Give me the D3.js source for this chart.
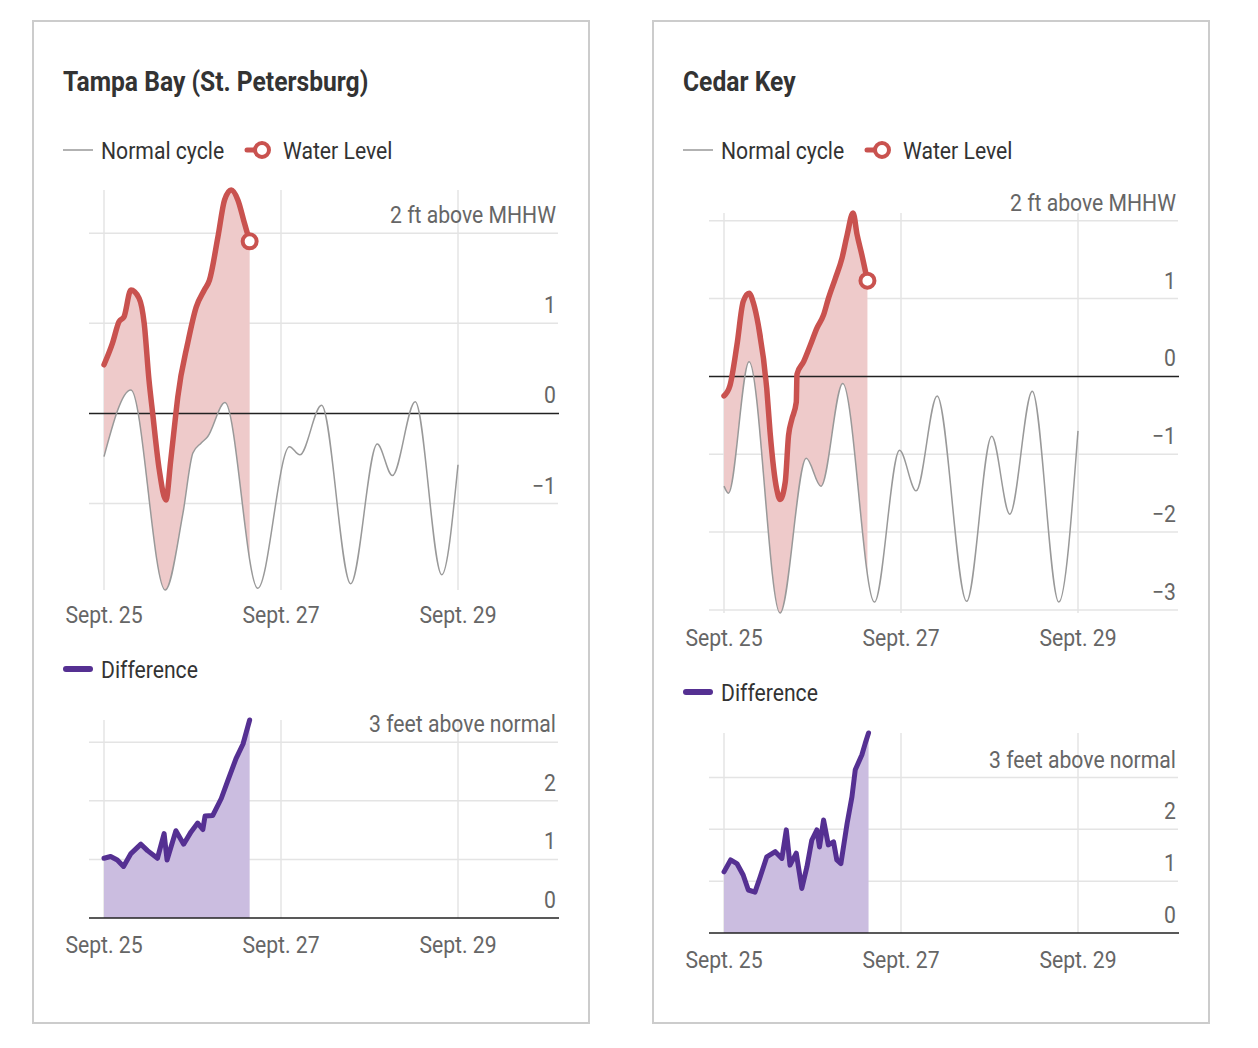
<!DOCTYPE html>
<html>
<head>
<meta charset="utf-8">
<script src="https://cdn.jsdelivr.net/npm/d3@7"></script>
<style>
  body { margin: 0; background: #fff; }
  svg { display: block; font-family: Roboto, "Noto Sans", sans-serif; }
</style>
</head>
<body>
<svg id="chart"></svg>
<script>
// hours after Sept. 25 00:00, feet relative to MHHW
const stationNames = ["Tampa Bay (St. Petersburg)", "Cedar Key"];

const tampaNormal = [[0,-0.48],[7.3,0.26],[16.6,-1.96],[21.4,-1.11],[24.1,-0.44],[26.3,-0.33],[28.1,-0.26],
  [32.8,0.12],[41.7,-1.94],[50.3,-0.37],[53.1,-0.46],[59.0,0.09],[66.9,-1.89],[74.1,-0.34],[78.2,-0.69],
  [84.4,0.13],[91.6,-1.79],[96.0,-0.57]];
const tampaLevel = [[0,0.54],[2.3,0.78],[4.1,1.02],[5.4,1.07],[7.3,1.37],[9.5,1.28],[10.9,1.0],[12.2,0.37],
  [13.2,0],[15.0,-0.63],[16.8,-0.96],[18.1,-0.52],[19.5,0],[20.0,0.18],[22.7,0.78],[25.0,1.18],[27.2,1.37],
  [28.6,1.48],[30.9,1.96],[32.7,2.37],[34.5,2.48],[36.3,2.37],[38.1,2.11],[39.5,1.91]];
const tampaDiff = [[0,1.02],[1.8,1.05],[3.6,0.99],[5.3,0.88],[7.3,1.10],[10.0,1.26],[11.8,1.15],[14.5,1.02],
  [16.3,1.44],[17.1,0.99],[19.5,1.49],[21.6,1.26],[23.6,1.47],[25.4,1.62],[26.8,1.51],[27.4,1.74],[29.5,1.75],
  [31.8,2.04],[33.6,2.35],[35.8,2.72],[37.7,2.97],[39.5,3.38]];

const cedarNormal = [[0,-1.41],[1.2,-1.50],[6.8,0.19],[15.2,-3.04],[22.3,-1.05],[26.3,-1.41],[32.2,-0.09],
  [40.8,-2.90],[47.6,-0.95],[52.1,-1.47],[57.8,-0.25],[65.8,-2.89],[72.6,-0.77],[77.5,-1.77],[83.6,-0.19],
  [90.8,-2.90],[96.0,-0.70]];
const cedarLevel = [[0,-0.25],[1.6,-0.12],[3.5,0.40],[5.2,0.96],[6.8,1.07],[8.0,0.94],[9.3,0.66],[11.6,-0.16],
  [12.5,-0.72],[14.3,-1.45],[15.2,-1.58],[16.6,-1.36],[17.5,-0.76],[18.4,-0.55],[19.6,-0.33],[19.8,0.03],
  [21.6,0.19],[23.4,0.40],[25.2,0.62],[27.0,0.79],[28.3,1.00],[30.2,1.26],[32.0,1.52],[33.4,1.82],[35.0,2.10],
  [36.1,1.82],[37.4,1.56],[38.9,1.23]];
const cedarDiff = [[0,1.18],[1.8,1.41],[3.5,1.34],[5.2,1.12],[6.6,0.83],[8.4,0.79],[9.8,1.08],[11.6,1.47],
  [13.9,1.57],[15.7,1.44],[16.9,1.99],[17.9,1.31],[19.6,1.54],[21.1,0.86],[22.5,1.28],[23.8,1.79],[25.2,1.99],
  [25.9,1.66],[27.0,2.18],[28.3,1.70],[29.7,1.76],[30.6,1.41],[31.7,1.34],[33.4,2.12],[34.7,2.63],[35.6,3.15],
  [37.4,3.44],[38.3,3.66],[39.2,3.86]];

const dayTicks = [0, 48, 96];
const dayLabels = ["Sept. 25", "Sept. 27", "Sept. 29"];
const topLabel = "2 ft above MHHW";
const bottomLabel = "3 feet above normal";

const stations = [
  { name: stationNames[0], normal: tampaNormal, level: tampaLevel, diff: tampaDiff },
  { name: stationNames[1], normal: cedarNormal, level: cedarLevel, diff: cedarDiff }
];

// layout (not data)
const layout = [
  { x0: 32, top1: 190, top2: 720, bot2: 918 },
  { x0: 652, top1: 213, top2: 733, bot2: 933 }
];

const W = 1258, H = 1048;
const RED = "#c9524f", PINK = "#eecaca", PURPLE = "#553092", LILAC = "#cbbde0";
const GRID = "#e4e4e4", INK = "#333", MUTED = "#666";
const K_REG = 0.92, K_BOLD = 0.88;

const start = new Date(2022, 8, 25);
const toDate = h => new Date(start.getTime() + h * 3600e3);

const svg = d3.select("#chart").attr("width", W).attr("height", H);

// squeeze Roboto toward the condensed face of the original
function condense(sel, k) {
  sel.each(function () {
    const w = this.getComputedTextLength();
    d3.select(this).attr("textLength", w * k).attr("lengthAdjust", "spacingAndGlyphs");
  });
}

stations.forEach((st, i) => {
  const L = layout[i];
  const g = svg.append("g").attr("transform", `translate(${L.x0},0)`);

  g.append("rect")
    .attr("x", 1).attr("y", 21).attr("width", 556).attr("height", 1002)
    .attr("fill", "none").attr("stroke", "#ccc").attr("stroke-width", 2);

  g.append("text")
    .attr("x", 31).attr("y", 91)
    .attr("font-size", 28).attr("font-weight", 700).attr("fill", INK)
    .text(st.name)
    .call(condense, K_BOLD);

  // legend
  g.append("line").attr("x1", 31).attr("x2", 61).attr("y1", 150).attr("y2", 150)
    .attr("stroke", "#999").attr("stroke-width", 1.5);
  g.append("text").attr("x", 69).attr("y", 159).attr("font-size", 23).attr("fill", INK)
    .text("Normal cycle").call(condense, K_REG);
  g.append("line").attr("x1", 215).attr("x2", 230).attr("y1", 150).attr("y2", 150)
    .attr("stroke", RED).attr("stroke-width", 5).attr("stroke-linecap", "round");
  g.append("circle").attr("cx", 230).attr("cy", 150).attr("r", 7)
    .attr("fill", "#fff").attr("stroke", RED).attr("stroke-width", 4);
  g.append("text").attr("x", 251).attr("y", 159).attr("font-size", 23).attr("fill", INK)
    .text("Water Level").call(condense, K_REG);

  const x = d3.scaleTime()
    .domain([toDate(dayTicks[0]), toDate(dayTicks[2])])
    .range([72, 426]);

  // ---- top chart: water level vs normal cycle
  const all = st.normal.concat(st.level).map(d => d[1]);
  const y = d3.scaleLinear().domain(d3.extent(all)).range([L.top1 + 400, L.top1]);
  const yTicks = d3.range(Math.ceil(y.domain()[0]), Math.floor(y.domain()[1]) + 1);

  const top = g.append("g");
  top.selectAll(".vgrid").data(dayTicks).enter().append("line")
    .attr("x1", d => x(toDate(d))).attr("x2", d => x(toDate(d)))
    .attr("y1", L.top1).attr("y2", L.top1 + 400)
    .attr("stroke", GRID).attr("stroke-width", 1.5);
  top.selectAll(".hgrid").data(yTicks.filter(d => d !== 0)).enter().append("line")
    .attr("x1", 57).attr("x2", 526)
    .attr("y1", d => y(d)).attr("y2", d => y(d))
    .attr("stroke", GRID).attr("stroke-width", 1.5);

  const clipId = "above-normal-" + i;
  g.append("clipPath").attr("id", clipId).append("path")
    .attr("d", d3.area()
      .x(d => x(toDate(d[0]))).y0(0).y1(d => y(d[1]))
      .curve(d3.curveMonotoneX)(st.normal));

  top.append("path")
    .attr("d", d3.area()
      .x(d => x(toDate(d[0]))).y0(L.top1 + 400).y1(d => y(d[1]))
      .curve(d3.curveMonotoneX)(st.level))
    .attr("fill", PINK).attr("clip-path", `url(#${clipId})`);

  top.append("line").attr("x1", 57).attr("x2", 527).attr("y1", y(0)).attr("y2", y(0))
    .attr("stroke", "#222").attr("stroke-width", 1.5);

  top.append("path")
    .attr("d", d3.line().x(d => x(toDate(d[0]))).y(d => y(d[1])).curve(d3.curveMonotoneX)(st.normal))
    .attr("fill", "none").attr("stroke", "#999").attr("stroke-width", 1.5);

  top.append("path")
    .attr("d", d3.line().x(d => x(toDate(d[0]))).y(d => y(d[1])).curve(d3.curveMonotoneX)(st.level))
    .attr("fill", "none").attr("stroke", RED).attr("stroke-width", 5.5)
    .attr("stroke-linejoin", "round").attr("stroke-linecap", "round");

  const last = st.level[st.level.length - 1];
  top.append("circle")
    .attr("cx", x(toDate(last[0]))).attr("cy", y(last[1])).attr("r", 7)
    .attr("fill", "#fff").attr("stroke", RED).attr("stroke-width", 4);

  top.selectAll(".ylab").data(yTicks).enter().append("text")
    .attr("x", 524).attr("y", d => y(d) - 10)
    .attr("text-anchor", "end").attr("font-size", 23).attr("fill", MUTED)
    .text(d => d === 2 ? topLabel : (d < 0 ? "\u2212" + Math.abs(d) : d))
    .call(condense, K_REG);

  top.selectAll(".xlab").data(dayTicks).enter().append("text")
    .attr("x", d => x(toDate(d))).attr("y", L.top1 + 400 + 33)
    .attr("text-anchor", "middle").attr("font-size", 23).attr("fill", MUTED)
    .text((d, j) => dayLabels[j])
    .call(condense, K_REG);

  // ---- difference legend
  const legY = L.top1 + 479;
  g.append("line").attr("x1", 34).attr("x2", 58).attr("y1", legY).attr("y2", legY)
    .attr("stroke", PURPLE).attr("stroke-width", 6).attr("stroke-linecap", "round");
  g.append("text").attr("x", 69).attr("y", legY + 9).attr("font-size", 23).attr("fill", INK)
    .text("Difference").call(condense, K_REG);

  // ---- bottom chart: difference
  const y2 = d3.scaleLinear().domain([0, d3.max(st.diff, d => d[1])]).range([L.bot2, L.top2]);
  const y2Ticks = d3.range(0, Math.floor(y2.domain()[1]) + 1);
  const bot = g.append("g");

  bot.selectAll(".vgrid").data(dayTicks).enter().append("line")
    .attr("x1", d => x(toDate(d))).attr("x2", d => x(toDate(d)))
    .attr("y1", L.top2).attr("y2", L.bot2)
    .attr("stroke", GRID).attr("stroke-width", 1.5);
  bot.selectAll(".hgrid").data(y2Ticks.filter(d => d !== 0)).enter().append("line")
    .attr("x1", 57).attr("x2", 526)
    .attr("y1", d => y2(d)).attr("y2", d => y2(d))
    .attr("stroke", GRID).attr("stroke-width", 1.5);

  bot.append("path")
    .attr("d", d3.area().x(d => x(toDate(d[0]))).y0(y2(0)).y1(d => y2(d[1]))(st.diff))
    .attr("fill", LILAC);

  bot.append("line").attr("x1", 57).attr("x2", 527).attr("y1", y2(0)).attr("y2", y2(0))
    .attr("stroke", "#222").attr("stroke-width", 1.5);

  bot.append("path")
    .attr("d", d3.line().x(d => x(toDate(d[0]))).y(d => y2(d[1]))(st.diff))
    .attr("fill", "none").attr("stroke", PURPLE).attr("stroke-width", 5)
    .attr("stroke-linejoin", "round").attr("stroke-linecap", "round");

  bot.selectAll(".ylab").data(y2Ticks).enter().append("text")
    .attr("x", 524).attr("y", d => y2(d) - 10)
    .attr("text-anchor", "end").attr("font-size", 23).attr("fill", MUTED)
    .text(d => d === 3 ? bottomLabel : d)
    .call(condense, K_REG);

  bot.selectAll(".xlab").data(dayTicks).enter().append("text")
    .attr("x", d => x(toDate(d))).attr("y", L.bot2 + 35)
    .attr("text-anchor", "middle").attr("font-size", 23).attr("fill", MUTED)
    .text((d, j) => dayLabels[j])
    .call(condense, K_REG);
});
</script>
</body>
</html>
